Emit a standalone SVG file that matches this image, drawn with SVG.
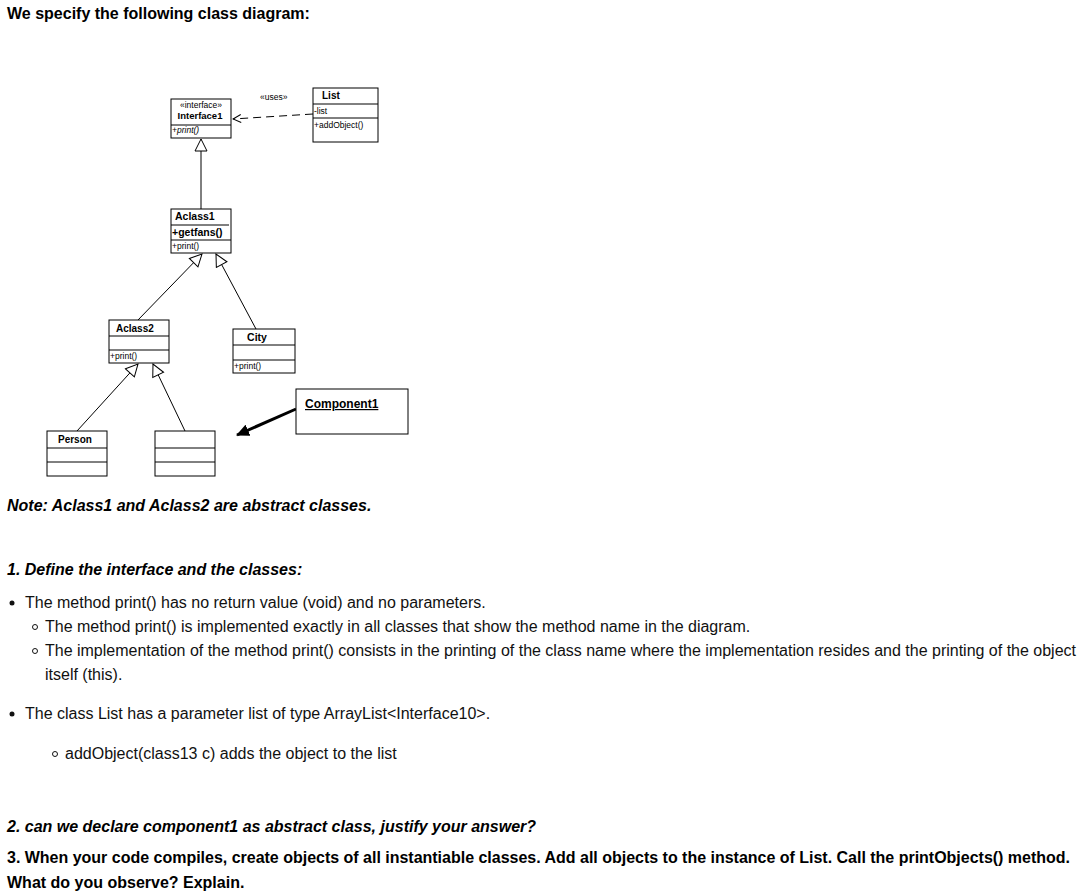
<svg xmlns="http://www.w3.org/2000/svg" width="1090" height="893" viewBox="0 0 1090 893">
<style>
.box{fill:#fff;stroke:#000;stroke-width:1}
.ln{stroke:#000;stroke-width:1;fill:none}
.t{font-family:"Liberation Sans",Arial,sans-serif;fill:#000}
.b{font-weight:bold}
.i{font-style:italic}
.body{font-family:"Liberation Sans",Arial,sans-serif;font-size:16px;fill:#111}
.hd{font-family:"Liberation Sans",Arial,sans-serif;font-size:16px;font-weight:bold;fill:#000}
</style>
<defs>
<marker id="open" markerWidth="10" markerHeight="10" refX="9" refY="5" orient="auto" markerUnits="userSpaceOnUse">
<path d="M1,1 L9,5 L1,9" fill="none" stroke="#000" stroke-width="1"/>
</marker>
<marker id="tri" markerWidth="14" markerHeight="14" refX="13" refY="7" orient="auto" markerUnits="userSpaceOnUse">
<path d="M1,1 L13,7 L1,13 Z" fill="#fff" stroke="#000" stroke-width="1"/>
</marker>
<marker id="fill" markerWidth="14" markerHeight="12" refX="12" refY="6" orient="auto" markerUnits="userSpaceOnUse">
<path d="M0,0 L13,6 L0,12 Z" fill="#000"/>
</marker>
</defs>
<rect width="1090" height="893" fill="#fff"/>

<text class="hd" x="7" y="19">We specify the following class diagram:</text>

<g id="connectors">
<line class="ln" x1="313" y1="114" x2="233" y2="119" stroke-dasharray="8,5" marker-end="url(#open)"/>
<text class="t" x="260" y="100" font-size="8.5" fill="#333">«uses»</text>
<line class="ln" x1="201" y1="209" x2="201" y2="139" marker-end="url(#tri)"/>
<line class="ln" x1="138" y1="320" x2="202" y2="254" marker-end="url(#tri)"/>
<line class="ln" x1="256" y1="329" x2="216" y2="254" marker-end="url(#tri)"/>
<line class="ln" x1="77" y1="431" x2="138" y2="364" marker-end="url(#tri)"/>
<line class="ln" x1="185" y1="431" x2="153" y2="364" marker-end="url(#tri)"/>
<line x1="296" y1="409" x2="237" y2="435" stroke="#000" stroke-width="3" marker-end="url(#fill)"/>
</g>

<g id="Interface1">
<rect class="box" x="171" y="99" width="60" height="39"/>
<line class="ln" x1="171" y1="125" x2="231" y2="125"/>
<text class="t" x="201" y="108" font-size="8.5" text-anchor="middle">«interface»</text>
<text class="t b" x="200" y="119" font-size="9.5" text-anchor="middle">Interface1</text>
<text class="t i" x="172" y="133" font-size="8.5">+print()</text>
</g>

<g id="List">
<rect class="box" x="313" y="88" width="65" height="54"/>
<line class="ln" x1="313" y1="104" x2="378" y2="104"/>
<line class="ln" x1="313" y1="118" x2="378" y2="118"/>
<text class="t b" x="322" y="99" font-size="10">List</text>
<text class="t" x="314" y="114" font-size="8.5">-list</text>
<text class="t" x="314" y="128" font-size="8.5">+addObject()</text>
</g>

<g id="Aclass1">
<rect class="box" x="171" y="209" width="60" height="44"/>
<line class="ln" x1="171" y1="225" x2="229" y2="225"/>
<line class="ln" x1="171" y1="240" x2="231" y2="240"/>
<text class="t b" x="175" y="220" font-size="10.5">Aclass1</text>
<text class="t b" x="172" y="236" font-size="10.5">+getfans()</text>
<text class="t" x="172" y="249" font-size="8.5">+print()</text>
</g>

<g id="Aclass2">
<rect class="box" x="109" y="320" width="60" height="43"/>
<line class="ln" x1="109" y1="336" x2="169" y2="336"/>
<line class="ln" x1="109" y1="350" x2="169" y2="350"/>
<text class="t b" x="116" y="332" font-size="10">Aclass2</text>
<text class="t" x="110" y="359" font-size="8.5">+print()</text>
</g>

<g id="City">
<rect class="box" x="233" y="329" width="62" height="44"/>
<line class="ln" x1="233" y1="345" x2="295" y2="345"/>
<line class="ln" x1="233" y1="360" x2="295" y2="360"/>
<text class="t b" x="257" y="341" font-size="10.5" text-anchor="middle">City</text>
<text class="t" x="234" y="369" font-size="8.5">+print()</text>
</g>

<g id="Person">
<rect class="box" x="47" y="431" width="60" height="45"/>
<line class="ln" x1="47" y1="448" x2="107" y2="448"/>
<line class="ln" x1="47" y1="462" x2="107" y2="462"/>
<text class="t b" x="58" y="443" font-size="10">Person</text>
</g>

<g id="Unnamed">
<rect class="box" x="155" y="431" width="60" height="45"/>
<line class="ln" x1="155" y1="448" x2="215" y2="448"/>
<line class="ln" x1="155" y1="462" x2="215" y2="462"/>
</g>

<g id="Component1">
<rect class="box" x="296" y="389" width="112" height="45"/>
<text class="t b" x="305" y="408" font-size="12" text-decoration="underline">Component1</text>
</g>

<g id="text">
<text class="hd i" x="7" y="511">Note: Aclass1 and Aclass2 are abstract classes.</text>
<text class="hd i" x="7" y="575">1. Define the interface and the classes:</text>
<circle cx="12" cy="603" r="2.5" fill="#111"/>
<text class="body" x="25" y="608">The method print() has no return value (void) and no parameters.</text>
<circle cx="35" cy="627" r="2.5" fill="none" stroke="#111" stroke-width="1"/>
<text class="body" x="45" y="632">The method print() is implemented exactly in all classes that show the method name in the diagram.</text>
<circle cx="35" cy="651" r="2.5" fill="none" stroke="#111" stroke-width="1"/>
<text class="body" x="45" y="656" textLength="1031" lengthAdjust="spacing">The implementation of the method print() consists in the printing of the class name where the implementation resides and the printing of the object</text>
<text class="body" x="45" y="680">itself (this).</text>
<circle cx="12" cy="714" r="2.5" fill="#111"/>
<text class="body" x="25" y="719">The class List has a parameter list of type ArrayList&lt;Interface10&gt;.</text>
<circle cx="55" cy="754" r="2.5" fill="none" stroke="#111" stroke-width="1"/>
<text class="body" x="65" y="759">addObject(class13 c) adds the object to the list</text>
<text class="hd i" x="7" y="832">2. can we declare component1 as abstract class, justify your answer?</text>
<text class="hd" x="7" y="863" textLength="1063" lengthAdjust="spacing">3. When your code compiles, create objects of all instantiable classes. Add all objects to the instance of List. Call the printObjects() method.</text>
<text class="hd" x="7" y="888">What do you observe? Explain.</text>
</g>
</svg>
